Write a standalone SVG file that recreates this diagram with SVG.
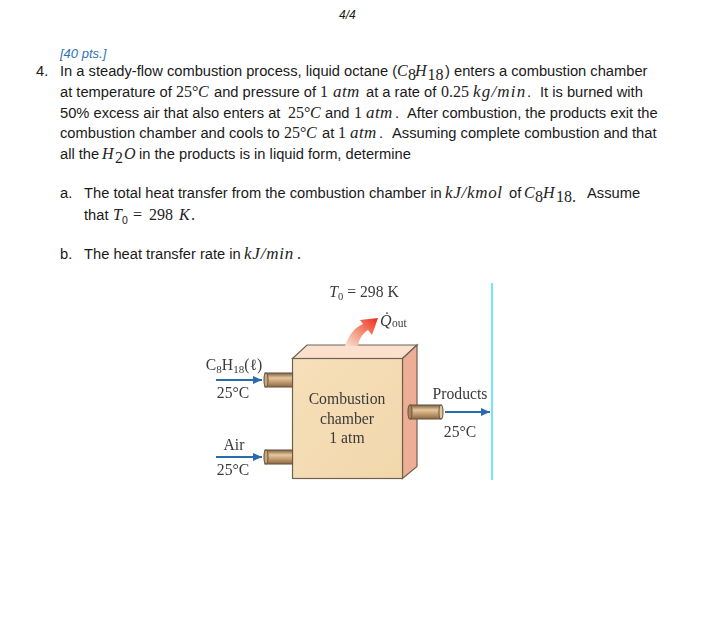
<svg xmlns="http://www.w3.org/2000/svg" width="711" height="628" viewBox="0 0 711 628">
<style>
text{font-family:"Liberation Sans",Arial,sans-serif;font-size:14.7px;fill:#1a1a1a}
.m{font-family:"Liberation Serif","Times New Roman",serif;font-size:16px;fill:#222}
.i{font-style:italic}
.atm{font-size:17px;letter-spacing:.4px}
.un{font-size:17px;letter-spacing:.8px}
.f{font-family:"Liberation Serif","Times New Roman",serif;font-size:15.7px;fill:#3a3a3a;text-anchor:middle}
.sub{font-size:10.5px}
.pipe{stroke:#6b5a44;stroke-width:1.1}
.flow{stroke:#2a6cab;stroke-width:2;fill:none;marker-end:url(#ah)}
</style>
<defs>
<marker id="ah" markerWidth="9" markerHeight="8" refX="9" refY="4" orient="auto" markerUnits="userSpaceOnUse" viewBox="0 0 9 8"><path d="M0 0L9 4L0 8Z" fill="#2a6cab"/></marker>
<linearGradient id="pipeG" x1="0" y1="0" x2="0" y2="1"><stop offset="0" stop-color="#7f5c3c"/><stop offset=".35" stop-color="#e3c8a0"/><stop offset=".6" stop-color="#c9a277"/><stop offset="1" stop-color="#8c6640"/></linearGradient>
<linearGradient id="front" x1="0" y1="0" x2="1" y2="1"><stop offset="0" stop-color="#f6dfba"/><stop offset="1" stop-color="#f1d7ab"/></linearGradient>
<linearGradient id="heat" x1="0" y1="1" x2="1" y2="0"><stop offset="0" stop-color="#fbe3d6"/><stop offset=".55" stop-color="#f28468"/><stop offset="1" stop-color="#ee2a20"/></linearGradient>
<filter id="soft" x="-5%" y="-5%" width="110%" height="110%"><feGaussianBlur stdDeviation="0.45"/></filter>
</defs>

<g id="page-text">
<text x="339" y="19" style="font-size:12px;font-style:italic">4/4</text>
<text x="60" y="58" style="font-size:13px;font-style:italic;fill:#2e74b5">[40 pts.]</text>
<text x="36" y="76">4.</text>
<text x="60" y="76">In a steady-flow combustion process, liquid octane (<tspan class="m i" x="397">C</tspan><tspan class="m" x="408" y="80">8</tspan><tspan class="m i" x="415" y="76">H</tspan><tspan class="m" x="427.500" y="80">18</tspan><tspan x="445" y="76">)</tspan><tspan x="454">enters a combustion chamber</tspan></text>
<text x="60" y="97">at temperature of<tspan class="m" x="176">25°</tspan><tspan class="m i" x="198">C</tspan><tspan x="214">and pressure of</tspan><tspan class="m" x="320">1</tspan><tspan class="m i atm" x="333">atm</tspan><tspan x="366">at a rate of</tspan><tspan class="m" x="441">0.25</tspan><tspan class="m i" x="473" style="font-size:17px;letter-spacing:1.2px">kg/min</tspan><tspan x="527">.</tspan><tspan x="540">It is burned with</tspan></text>
<text x="60" y="118">50% excess air that also enters at<tspan class="m" x="288">25°</tspan><tspan class="m i" x="310">C</tspan><tspan x="325">and</tspan><tspan class="m" x="354">1</tspan><tspan class="m i atm" x="366">atm</tspan><tspan x="395">.</tspan><tspan x="407">After combustion, the products exit the</tspan></text>
<text x="60" y="138">combustion chamber and cools to<tspan class="m" x="284">25°</tspan><tspan class="m i" x="306">C</tspan><tspan x="322">at</tspan><tspan class="m" x="338">1</tspan><tspan class="m i atm" x="350">atm</tspan><tspan x="379">.</tspan><tspan x="392">Assuming complete combustion and that</tspan></text>
<text x="60" y="159">all the<tspan class="m i" x="102">H</tspan><tspan class="m" x="115" y="163">2</tspan><tspan class="m i" x="124" y="159">O</tspan><tspan x="139">in the products is in liquid form, determine</tspan></text>
<text x="60" y="198">a.</text>
<text x="84" y="198">The total heat transfer from the combustion chamber in<tspan class="m i" x="445" style="font-size:17px;letter-spacing:.7px">kJ/kmol</tspan><tspan x="509">of</tspan><tspan class="m i" x="524">C</tspan><tspan class="m" x="535" y="202">8</tspan><tspan class="m i" x="543" y="198">H</tspan><tspan class="m" x="556" y="202">18.</tspan><tspan x="587" y="198">Assume</tspan></text>
<text x="84" y="220">that<tspan class="m i" x="113">T</tspan><tspan class="sub" x="122" y="224">0</tspan><tspan class="m" x="133" y="220">=</tspan><tspan class="m" x="149">298</tspan><tspan class="m i" x="179">K</tspan><tspan class="m" x="191">.</tspan></text>
<text x="60" y="259">b.</text>
<text x="84" y="259">The heat transfer rate in<tspan class="m i un" x="244">kJ/min</tspan><tspan class="m" x="297">.</tspan></text>
</g>

<g id="boundary"><line x1="492" y1="283" x2="492" y2="480" stroke="#14d8f0" stroke-width="1.2"/></g>

<g filter="url(#soft)">
<g id="chamber">
<path d="M292.500 358.500L307 345H417L402.500 358.500Z" fill="#fbe0cd" stroke="#6e6252" stroke-width="1.2"/>
<path d="M402.500 358.500L417 345V466.500L402.500 478.500Z" fill="#eeae96" stroke="#6e6252" stroke-width="1.2"/>
<rect x="292.500" y="358.500" width="110" height="120" fill="url(#front)" stroke="#6e6252" stroke-width="1.2"/>
<text class="f" x="347" y="404">Combustion</text>
<text class="f" x="347" y="424">chamber</text>
<text class="f" x="347" y="443">1 atm</text>
</g>
<g id="heat-out">
<path d="M345 346C349 335 354 328 363 324L360 320L378 318L372 335L368 330C362 334 359 339 358 346Z" fill="url(#heat)"/>
<text class="f" x="364" y="297"><tspan class="i">T</tspan><tspan dy="3" style="font-size:10.500px">0</tspan><tspan dy="-3"> = 298 K</tspan></text>
<text class="f i" x="380" y="326" style="font-size:16px;text-anchor:start">Q̇</text>
<text class="f" x="392" y="327" style="font-size:11.500px;text-anchor:start">out</text>
</g>
<g id="fuel-inlet">
<rect class="pipe" x="265" y="373" width="27.500" height="14" fill="url(#pipeG)"/>
<ellipse class="pipe" cx="266" cy="380" rx="2" ry="7" fill="#c9a57a"/>
<text class="f" x="234" y="370">C<tspan dy="3" style="font-size:11px">8</tspan><tspan dy="-3">H</tspan><tspan dy="3" style="font-size:11px">18</tspan><tspan dy="-3">(ℓ)</tspan></text>
<text class="f" x="233" y="398">25°C</text>
</g>
<g id="air-inlet">
<rect class="pipe" x="265" y="450" width="27.500" height="14" fill="url(#pipeG)"/>
<ellipse class="pipe" cx="266" cy="457" rx="2" ry="7" fill="#c9a57a"/>
<text class="f" x="234" y="450">Air</text>
<text class="f" x="233" y="475">25°C</text>
</g>
<g id="products-outlet">
<rect class="pipe" x="410" y="405" width="31" height="14" fill="url(#pipeG)"/>
<ellipse class="pipe" cx="410" cy="412" rx="2" ry="7" fill="#a8845c"/>
<ellipse class="pipe" cx="441" cy="412" rx="2" ry="7" fill="#e0c7a0"/>
<text class="f" x="460" y="399">Products</text>
<text class="f" x="460" y="437">25°C</text>
</g>
<g id="connectors">
<line class="flow" x1="216" y1="380" x2="262" y2="380"/>
<line class="flow" x1="216" y1="457" x2="262" y2="457"/>
<line class="flow" x1="445" y1="412" x2="490" y2="412"/>
</g>
</g>
</svg>
